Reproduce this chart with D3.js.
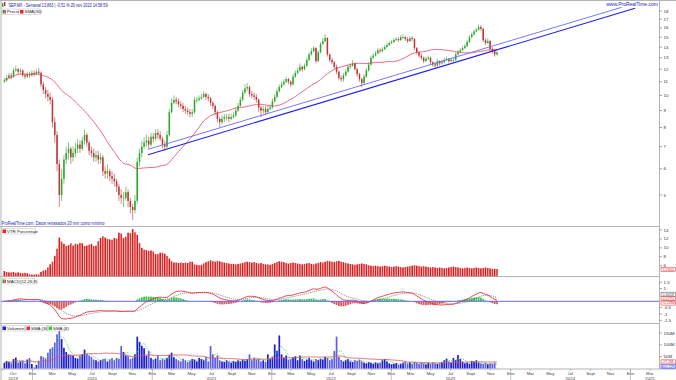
<!DOCTYPE html>
<html><head><meta charset="utf-8">
<script src="https://cdn.jsdelivr.net/npm/d3@7"></script>
<style>html,body{margin:0;padding:0;background:#fff;overflow:hidden}svg{display:block;font-family:"Liberation Sans",Arial,sans-serif}</style>
</head><body><svg id="c" width="676" height="380"></svg>
<script>
// ---------------- DATA ----------------
const firstWeek = "2019-10-07";
const firstOpen = 11.0;
const closes = [
11.1,11.3,11.5,11.4,11.9,12.0,11.8,11.9,11.5,11.4,
11.6,11.5,11.7,11.6,11.8,11.7,10.8,10.4,10.1,9.9,
9.7,8.3,7.6,6.2,5.0,5.6,6.4,6.7,6.9,6.5,
6.7,6.9,7.1,6.9,7.3,7.6,7.2,6.8,6.7,6.5,
6.6,6.4,6.5,5.9,5.8,5.9,5.7,5.6,5.5,5.3,
5.0,4.9,4.9,5.1,4.8,4.6,4.5,4.8,6.3,6.7,
7.0,7.2,7.3,7.1,7.5,7.4,7.7,7.6,7.4,7.1,
7.0,7.6,8.9,9.5,9.7,9.6,9.4,9.3,9.1,9.0,
8.9,8.8,8.9,9.7,9.7,9.8,9.9,10.1,9.9,9.8,
9.5,9.3,8.9,8.5,8.3,8.5,8.6,8.6,8.5,8.6,
8.7,9.0,9.3,9.7,10.2,10.5,10.6,10.1,10.0,9.9,
9.7,9.2,9.0,9.1,8.9,9.1,9.2,9.6,9.9,10.3,
10.6,10.8,11.0,11.2,11.0,10.8,11.4,11.7,11.9,12.2,
12.0,12.3,12.8,13.3,13.6,13.9,12.7,13.5,14.3,14.6,
14.9,13.3,12.8,12.6,12.2,11.8,11.3,11.2,11.5,11.8,
12.2,12.3,12.5,12.0,11.6,11.2,10.9,11.4,11.9,12.4,
13.0,13.2,13.4,13.7,13.6,13.8,14.0,14.2,14.4,14.5,
14.7,14.8,14.7,15.0,15.0,14.8,14.6,14.9,14.8,13.9,
13.5,13.2,13.0,12.7,12.9,13.0,12.6,12.4,12.3,12.7,
12.5,12.6,12.8,12.9,12.7,12.8,12.8,13.3,13.5,13.7,
13.9,14.1,14.5,15.0,15.3,15.6,15.8,16.1,15.9,14.7,
14.4,14.6,13.8,13.6,13.3,13.5];
const highs = [
11.3,11.5,11.7,11.7,12.1,12.3,12.1,12.1,12.0,11.7,
11.8,11.8,11.9,11.9,12.0,12.1,11.8,11.0,10.6,10.4,
10.2,9.9,8.6,7.8,6.4,6.0,6.6,7.0,7.2,7.0,
7.0,7.2,7.4,7.3,7.5,7.9,7.7,7.3,7.0,6.9,
6.8,6.8,6.7,6.6,6.1,6.2,6.0,5.9,5.8,5.6,
5.4,5.2,5.1,5.3,5.2,4.9,4.7,5.0,6.5,6.9,
7.3,7.5,7.6,7.5,7.7,7.7,7.9,7.9,7.8,7.5,
7.3,7.8,9.1,9.8,10.0,9.9,9.8,9.6,9.5,9.3,
9.2,9.1,9.1,9.9,9.9,10.0,10.1,10.3,10.2,10.1,
9.9,9.6,9.4,9.0,8.6,8.7,8.8,8.8,8.8,8.8,
8.9,9.2,9.5,9.9,10.4,10.8,10.9,10.7,10.3,10.2,
10.1,9.8,9.3,9.3,9.3,9.3,9.4,9.8,10.1,10.5,
10.8,11.0,11.2,11.4,11.3,11.1,11.6,11.9,12.1,12.5,
12.3,12.5,13.0,13.5,13.9,14.1,14.0,13.7,14.5,14.9,
15.3,15.0,13.4,13.0,12.7,12.4,11.9,11.5,11.7,12.0,
12.4,12.5,12.8,12.6,12.1,11.7,11.3,11.6,12.1,12.6,
13.2,13.4,13.6,13.9,13.9,14.0,14.2,14.4,14.6,14.7,
14.9,15.0,15.0,15.2,15.3,15.1,15.0,15.1,15.1,14.9,
14.0,13.6,13.4,13.1,13.1,13.2,13.1,12.7,12.6,12.9,
12.8,12.8,13.0,13.1,13.0,13.0,13.0,13.5,13.7,13.9,
14.1,14.3,14.7,15.2,15.5,15.8,16.0,16.4,16.3,16.0,
14.9,14.9,14.7,14.0,13.7,13.6];
const lows = [
10.9,11.0,11.2,11.2,11.3,11.8,11.6,11.6,11.4,11.2,
11.3,11.3,11.4,11.4,11.5,11.5,10.6,10.1,9.8,9.6,
9.4,8.0,7.2,5.9,4.6,4.8,5.4,6.2,6.4,6.2,
6.3,6.5,6.7,6.7,6.8,7.1,7.0,6.6,6.5,6.3,
6.3,6.2,6.2,5.7,5.6,5.6,5.5,5.4,5.3,5.1,
4.8,4.7,4.6,4.8,4.6,4.4,4.2,4.4,4.7,6.1,
6.5,6.9,7.0,6.9,7.0,7.2,7.3,7.4,7.3,6.9,
6.8,6.9,7.5,8.8,9.4,9.4,9.2,9.1,8.9,8.8,
8.7,8.6,8.6,8.8,9.5,9.6,9.7,9.8,9.7,9.6,
9.3,9.1,8.7,8.3,8.0,8.2,8.3,8.4,8.3,8.4,
8.5,8.6,8.9,9.2,9.6,10.1,10.3,9.9,9.8,9.7,
9.5,8.9,8.6,8.8,8.7,8.8,9.0,9.1,9.5,9.8,
10.2,10.5,10.7,10.9,10.8,10.6,10.7,11.3,11.6,11.8,
11.8,11.9,12.2,12.7,13.2,13.5,12.5,12.6,13.4,14.2,
14.5,13.1,12.6,12.4,12.0,11.6,11.1,11.0,11.0,11.4,
11.7,12.0,12.2,11.9,11.4,11.0,10.6,10.8,11.3,11.8,
12.3,12.9,13.1,13.3,13.4,13.5,13.7,13.9,14.1,14.3,
14.4,14.6,14.5,14.6,14.8,14.6,14.4,14.5,14.6,13.7,
13.3,13.0,12.8,12.5,12.6,12.8,12.4,12.2,12.1,12.2,
12.3,12.4,12.5,12.7,12.5,12.6,12.6,12.7,13.2,13.4,
13.6,13.8,14.0,14.4,14.9,15.2,15.5,15.7,15.7,14.5,
14.2,14.3,13.6,13.4,13.1,13.2];
const volumes = [ // millions
24,32,28,22,40,46,25,30,33,22,
38,44,19,4,15,33,53,48,42,67,
83,90,110,145,160,125,88,70,60,58,
55,45,42,55,60,80,62,55,50,38,
35,30,36,40,42,30,38,44,35,45,
40,95,70,55,52,40,45,60,135,113,
96,86,55,74,45,38,42,55,35,40,
38,45,58,67,48,40,35,30,42,35,
28,33,40,38,30,45,40,35,50,30,
95,60,45,55,35,30,28,35,30,25,
32,28,35,30,38,33,40,60,35,45,
38,42,30,35,28,60,42,50,102,75,
140,60,45,55,38,40,48,52,35,55,
40,32,38,45,35,30,40,36,42,38,
50,45,35,40,74,135,50,36,30,35,
40,30,28,35,32,38,30,25,22,28,
24,20,26,22,25,35,40,30,22,18,
20,23,17,20,25,30,22,26,20,28,
24,20,25,22,18,24,20,26,22,19,
24,28,35,42,30,25,45,35,57,40,
28,22,25,20,32,30,35,25,22,20,
24,18,22,20,25,0.40022];
const vtr = [
4.8,4.6,4.5,4.5,4.6,4.4,4.5,4.4,4.3,4.4,
4.3,4.1,4.0,4.0,4.1,4.0,4.6,4.9,5.0,5.6,
6.3,6.9,8.2,9.8,12.3,11.4,10.9,10.4,10.6,11.0,
10.5,10.9,10.8,11.1,11.0,10.4,10.5,10.7,10.9,10.4,
10.5,11.5,12.2,12.6,12.3,12.0,11.9,11.8,12.2,12.1,
13.4,13.2,12.2,12.5,13.4,13.3,14.2,13.5,12.9,11.1,
10.0,9.6,9.5,9.3,9.4,9.2,8.6,8.6,8.9,8.9,
8.7,8.2,7.6,7.0,6.7,6.7,6.6,6.7,6.6,6.7,
6.6,6.9,6.9,6.3,6.2,6.1,6.2,6.5,6.8,7.0,
7.2,7.0,6.9,7.1,7.0,6.8,6.7,6.6,6.5,6.4,
6.4,6.3,6.4,6.5,6.6,6.8,6.9,6.8,6.7,6.8,
6.6,6.5,6.6,6.4,6.3,6.3,6.2,6.4,6.6,6.8,
7.0,6.9,6.8,6.6,6.5,6.6,6.7,6.6,6.5,6.4,
6.3,6.4,6.5,6.6,6.4,6.3,6.5,6.6,6.8,6.7,
6.9,7.1,7.0,6.9,6.8,7.0,7.1,6.9,6.8,6.6,
6.5,6.4,6.3,6.2,6.3,6.4,6.5,6.4,6.3,6.1,
6.0,5.9,6.0,5.9,5.8,5.9,6.0,5.9,5.8,5.7,
5.8,5.9,5.8,5.7,5.6,5.7,5.8,5.9,6.0,6.1,
6.0,5.9,5.8,5.9,5.8,5.7,5.6,5.7,5.6,5.5,
5.6,5.5,5.4,5.5,5.6,5.7,5.8,5.7,5.6,5.5,
5.4,5.5,5.6,5.5,5.4,5.5,5.6,5.5,5.4,5.5,
5.6,5.5,5.4,5.3,5.3,5.26];
const trendLines = [
  {from:["2020-12-19",6.87], to:["2024-12-05",18.47], color:"#6a6aff", w:0.9},
  {from:["2020-12-19",6.62], to:["2025-01-15",18.34], color:"#1e1ee8", w:1.1}
];
const priceTicks = [5,6,7,8,9,10,11,12,13,14,15,16,17,18];
const vtrTicks = [6,8,10,12,14];
const macdTicks = [1.5,1,-0.5,-1,-1.5];
const volTicks = [50,100,150];
const monthTicks = ["2019-10-01",
 "2020-01-01","2020-03-01","2020-05-01","2020-07-01","2020-09-01","2020-11-01",
 "2021-01-01","2021-03-01","2021-05-01","2021-07-01","2021-09-01","2021-11-01",
 "2022-01-01","2022-03-01","2022-05-01","2022-07-01","2022-09-01","2022-11-01",
 "2023-01-01","2023-03-01","2023-05-01","2023-07-01","2023-09-01","2023-11-01",
 "2024-01-01","2024-03-01","2024-05-01","2024-07-01","2024-09-01","2024-11-01",
 "2025-01-01","2025-03-01"];
const monthNames = ["Ene","Feb","Mar","Abr","May","Jun","Jul","Ago","Sept","Oct","Nov","Dic"];
const yearLabels = [["2019","2019-10-01"],["2020","2020-07-01"],["2021","2021-07-01"],["2022","2022-07-01"],["2023","2023-07-01"],["2024","2024-07-01"],["2025","2025-03-01"]];
const yearStarts = ["2020-01-01","2021-01-01","2022-01-01","2023-01-01","2024-01-01","2025-01-01"];
const titleText = "SEP.MX - Semanal 13,863 | -0,51 % 20 nov 2023 14:58:59";
const disclaimer = "ProRealTime.com: Datos retrasados 20 min como mínimo";

// ---------------- CHART ----------------
const svg = d3.select("#c");
const axisX = 659.5, leftX = 1;
const P = {main:[1,226.5], vtr:[226.5,276.5], macd:[276.5,323.5], vol:[323.5,369]};
const parse = d3.utcParse("%Y-%m-%d");
const dates = closes.map((_, i) => d3.utcDay.offset(parse(firstWeek), 7 * i));
const x = d3.scaleUtc().domain([parse("2020-01-01"), parse("2025-01-01")]).range([32.5, 630.5]);
const opens = closes.map((c, i) => i === 0 ? firstOpen : closes[i - 1]);
const yP = d3.scaleLog().domain([5, 18]).range([195, 11]);
const yV = d3.scaleLinear().domain([6, 14]).range([265.7, 230]);
const yM = d3.scaleLinear().domain([-1, 1]).range([314, 288.6]);
const yVol = d3.scaleLinear().domain([0, 150]).range([368.5, 333.1]);

function sma(a, n) { return a.map((_, i) => d3.mean(a.slice(Math.max(0, i - n + 1), i + 1))); }
function ema(a, n) { const k = 2 / (n + 1); let e = a[0]; return a.map((v, i) => i === 0 ? e : (e = v * k + e * (1 - k))); }
const sma30 = sma(closes, 30);
const e12 = ema(closes, 12), e26 = ema(closes, 26);
const macd = e12.map((v, i) => v - e26[i]);
const signal = ema(macd, 9);
const hist = macd.map((v, i) => v - signal[i]);
const volSma = sma(volumes, 30), volSma4 = sma(volumes, 4);

const defs = svg.append("defs");
Object.entries(P).forEach(([k, [t, b]]) => {
  defs.append("clipPath").attr("id", "cl-" + k).append("rect").attr("x", leftX).attr("y", t).attr("width", axisX - leftX).attr("height", b - t);
});
const grey = "#b4b4b4";
svg.append("line").attr("x1", 0).attr("x2", 676).attr("y1", 0.5).attr("y2", 0.5).attr("stroke", grey);
svg.append("line").attr("x1", 1).attr("x2", 1).attr("y1", 0).attr("y2", 380).attr("stroke", grey);
svg.append("line").attr("x1", axisX).attr("x2", axisX).attr("y1", 0).attr("y2", 369).attr("stroke", grey);
[P.vtr[0], P.macd[0], P.vol[0]].forEach(y => svg.append("line").attr("x1", 0).attr("x2", axisX).attr("y1", y).attr("y2", y).attr("stroke", grey));
svg.append("line").attr("x1", 0).attr("x2", 676).attr("y1", 369).attr("y2", 369).attr("stroke", grey);

function rightTicks(ticks, scale, fmt) {
  const g = svg.append("g");
  ticks.forEach(t => {
    const y = scale(t);
    g.append("line").attr("x1", axisX).attr("x2", axisX + 2.5).attr("y1", y).attr("y2", y).attr("stroke", "#666").attr("stroke-width", 0.6);
    g.append("text").attr("x", axisX + 4).attr("y", y + 1.5).attr("font-size", 4.4).attr("fill", "#333").text(fmt ? fmt(t) : t);
  });
}
// value boxes kept inside [minY, maxY] and stacked so they never overlap
function valueBoxes(items, minY, maxY, gap) {
  items.sort((a, b) => a.y - b.y);
  const ys = items.map(it => it.y);
  for (let i = 0; i < ys.length; i++) ys[i] = Math.max(ys[i], i ? ys[i - 1] + gap : minY);
  for (let i = ys.length - 1; i >= 0; i--) ys[i] = Math.min(ys[i], i < ys.length - 1 ? ys[i + 1] - gap : maxY);
  items.forEach((it, i) => {
    const y = ys[i], g = svg.append("g");
    g.append("rect").attr("x", 661).attr("y", y - 2.05).attr("width", 14.5).attr("height", 4.1).attr("fill", "#fff").attr("stroke", it.color).attr("stroke-width", 0.5);
    g.append("text").attr("x", 668.2).attr("y", y + 1.25).attr("text-anchor", "middle").attr("font-size", 3.7).attr("fill", it.color).text(it.txt);
  });
}

// ---- main panel
const gMain = svg.append("g").attr("clip-path", "url(#cl-main)");
const cw = 1.5;
const up = "#2ca62c", dn = "#bd3434";
dates.forEach((d, i) => {
  const cx = x(d), col = closes[i] >= opens[i] ? up : dn;
  gMain.append("line").attr("x1", cx).attr("x2", cx).attr("y1", yP(highs[i])).attr("y2", yP(lows[i])).attr("stroke", col).attr("stroke-width", 0.6);
  const t = yP(Math.max(opens[i], closes[i])), b = yP(Math.min(opens[i], closes[i]));
  gMain.append("rect").attr("x", cx - cw / 2).attr("y", t).attr("width", cw).attr("height", Math.max(0.8, b - t)).attr("fill", col);
});
gMain.append("path").datum(sma30).attr("fill", "none").attr("stroke", "#ee4466").attr("stroke-width", 0.8)
  .attr("d", d3.line().x((d, i) => x(dates[i])).y(d => yP(d)));
trendLines.forEach(l => {
  gMain.append("line").attr("x1", x(parse(l.from[0]))).attr("y1", yP(l.from[1])).attr("x2", x(parse(l.to[0]))).attr("y2", yP(l.to[1]))
    .attr("stroke", l.color).attr("stroke-width", l.w);
});
rightTicks(priceTicks, yP);
svg.append("text").attr("x", 658).attr("y", 6.2).attr("text-anchor", "end").attr("font-size", 5).attr("fill", "#2222cc").text("www.ProRealTime.com");
svg.append("rect").attr("x", 2).attr("y", 3).attr("width", 1.4).attr("height", 4).attr("fill", up);
svg.append("rect").attr("x", 4).attr("y", 2).attr("width", 1.4).attr("height", 4).attr("fill", dn);
svg.append("text").attr("x", 8.5).attr("y", 6.5).attr("font-size", 4.6).attr("fill", "#1a1aa0").attr("textLength", 99).attr("lengthAdjust", "spacingAndGlyphs").text(titleText);
function legendBox(x0, y0, w, label, drawIcon) {
  svg.append("rect").attr("x", x0).attr("y", y0).attr("width", w).attr("height", 5.5).attr("fill", "#fff").attr("stroke", "#bbb").attr("stroke-width", 0.5);
  drawIcon(x0 + 1, y0 + 1);
  svg.append("text").attr("x", x0 + 5.5).attr("y", y0 + 4.4).attr("font-size", 4.4).attr("fill", "#222").text(label);
}
legendBox(1.5, 9, 17, "Precio", (a, b) => { svg.append("rect").attr("x", a).attr("y", b).attr("width", 1.5).attr("height", 3.5).attr("fill", up); svg.append("rect").attr("x", a + 1.8).attr("y", b).attr("width", 1.5).attr("height", 3.5).attr("fill", dn); });
legendBox(19, 9, 21, "SMA(30)", (a, b) => svg.append("rect").attr("x", a).attr("y", b).attr("width", 3.5).attr("height", 3.5).attr("fill", "#ee2233"));
svg.append("text").attr("x", 1.5).attr("y", 225.3).attr("font-size", 4.6).attr("fill", "#2a2ab0").attr("textLength", 103).attr("lengthAdjust", "spacingAndGlyphs").text(disclaimer);

// ---- VTR panel
const gV = svg.append("g").attr("clip-path", "url(#cl-vtr)");
dates.forEach((d, i) => {
  const cx = x(d);
  gV.append("rect").attr("x", cx - 0.8).attr("y", yV(vtr[i])).attr("width", 1.6).attr("height", P.vtr[1] - yV(vtr[i])).attr("fill", i % 2 ? "#e43030" : "#d41a1a");
});
rightTicks(vtrTicks, yV);
const L = closes.length - 1;
valueBoxes([{y: yV(vtr[L]), txt: d3.format(".4f")(vtr[L]), color: "#e02020"}], yV(6) + 3.6, 274, 4.4);
legendBox(1.5, 228.5, 34, "VTR Porcentaje", (a, b) => svg.append("rect").attr("x", a).attr("y", b).attr("width", 3.5).attr("height", 3.5).attr("fill", "#ee2020"));

// ---- MACD panel
const gM = svg.append("g").attr("clip-path", "url(#cl-macd)");
dates.forEach((d, i) => {
  const cx = x(d), h = hist[i];
  gM.append("rect").attr("x", cx - 0.9).attr("y", Math.min(yM(0), yM(h))).attr("width", 1.8).attr("height", Math.abs(yM(h) - yM(0)))
    .attr("fill", h >= 0 ? "#3cc83c" : "#dd5a5a");
});
svg.append("line").attr("x1", leftX).attr("x2", axisX).attr("y1", yM(0)).attr("y2", yM(0)).attr("stroke", "#5a5aff").attr("stroke-width", 0.9);
gM.append("path").datum(signal).attr("fill", "none").attr("stroke", "#555").attr("stroke-width", 0.7).attr("stroke-dasharray", "1,1")
  .attr("d", d3.line().x((d, i) => x(dates[i])).y(d => yM(d)));
gM.append("path").datum(macd).attr("fill", "none").attr("stroke", "#ee1c2c").attr("stroke-width", 0.8)
  .attr("d", d3.line().x((d, i) => x(dates[i])).y(d => yM(d)));
rightTicks(macdTicks, yM);
valueBoxes([
  {y: yM(signal[L]), txt: d3.format(".4f")(signal[L]), color: "#444"},
  {y: yM(macd[L]), txt: d3.format(".4f")(macd[L]), color: "#e02020"},
  {y: yM(hist[L]), txt: d3.format(".4f")(hist[L]), color: hist[L] >= 0 ? "#22aa22" : "#e02020"}
], yM(1) + 3.6, yM(-0.5) - 4.6, 4.4);
legendBox(1.5, 278.5, 33, "MACD(12,26,9)", (a, b) => { svg.append("rect").attr("x", a).attr("y", b).attr("width", 1.5).attr("height", 3.5).attr("fill", "#2a2"); svg.append("rect").attr("x", a + 1.8).attr("y", b).attr("width", 1.5).attr("height", 3.5).attr("fill", "#d33"); });

// ---- Volume panel
const gVol = svg.append("g").attr("clip-path", "url(#cl-vol)");
dates.forEach((d, i) => {
  const cx = x(d);
  gVol.append("rect").attr("x", cx - 0.85).attr("y", yVol(volumes[i])).attr("width", 1.7).attr("height", yVol(0) - yVol(volumes[i]))
    .attr("fill", closes[i] >= opens[i] ? "#1c1cd0" : "#5c5ce4");
});
gVol.append("path").datum(volSma).attr("fill", "none").attr("stroke", "#e8506e").attr("stroke-width", 0.8)
  .attr("d", d3.line().x((d, i) => x(dates[i])).y(d => yVol(d)));
gVol.append("path").datum(volSma4).attr("fill", "none").attr("stroke", "#44d044").attr("stroke-width", 0.7).attr("stroke-dasharray", "1.5,1")
  .attr("d", d3.line().x((d, i) => x(dates[i])).y(d => yVol(d)));
rightTicks(volTicks, yVol, t => t + "M");
valueBoxes([
  {y: yVol(volSma[L]), txt: d3.format(".1f")(volSma[L]) + "M", color: "#e02040"},
  {y: yVol(volumes[L]), txt: d3.format(".2f")(volumes[L] * 1000) + "K", color: "#2222dd"}
], yVol(50) + 3.6, 366.3, 4.4);
legendBox(1.5, 325.5, 23, "Volumen", (a, b) => svg.append("rect").attr("x", a).attr("y", b).attr("width", 3.5).attr("height", 3.5).attr("fill", "#1c1cd0"));
legendBox(25.5, 325.5, 21, "SMA (30)", (a, b) => svg.append("rect").attr("x", a).attr("y", b).attr("width", 3.5).attr("height", 3.5).attr("fill", "#ee2244"));
legendBox(47.5, 325.5, 18, "SMA (4)", (a, b) => svg.append("rect").attr("x", a).attr("y", b).attr("width", 3.5).attr("height", 3.5).attr("fill", "#33cc33"));

// ---- time axis
const gA = svg.append("g");
monthTicks.forEach(s => {
  const d = parse(s), tx = x(d), lx = Math.max(13, tx);
  gA.append("line").attr("x1", tx).attr("x2", tx).attr("y1", 369).attr("y2", 370.8).attr("stroke", "#888").attr("stroke-width", 0.5);
  gA.append("text").attr("x", lx).attr("y", 375.2).attr("text-anchor", "middle").attr("font-size", 4.3).attr("fill", "#444").text(monthNames[d.getUTCMonth()]);
});
yearStarts.forEach(s => {
  const tx = x(parse(s));
  gA.append("line").attr("x1", tx).attr("x2", tx).attr("y1", 369).attr("y2", 380).attr("stroke", "#999").attr("stroke-width", 0.6);
});
yearLabels.forEach(([lab, s]) => {
  gA.append("text").attr("x", Math.max(13, x(parse(s)))).attr("y", 379.6).attr("text-anchor", "middle").attr("font-size", 4.3).attr("fill", "#444").text(lab);
});
</script></body></html>
